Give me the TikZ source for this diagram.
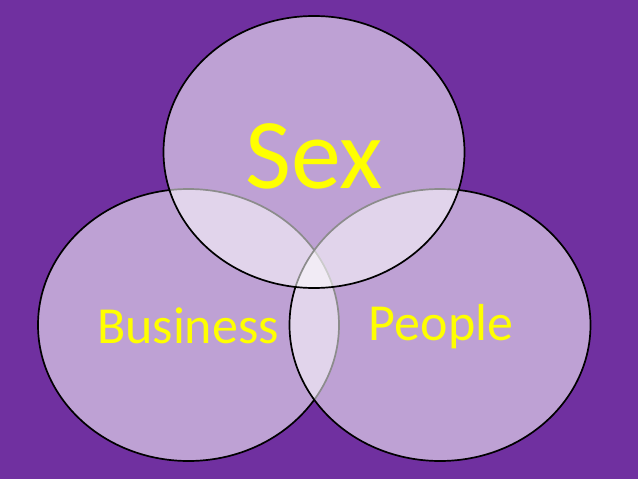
\documentclass[tikz,border=0pt]{standalone}
\usepackage{fontspec}
\setmainfont{Carlito}
\usetikzlibrary{shapes.geometric}
\definecolor{bgpurple}{RGB}{112,48,160}
\definecolor{txtyellow}{RGB}{255,255,0}
\tikzset{
  venn/.style={ellipse, draw=black, line width=1.7pt, fill=white, fill opacity=0.55,
    draw opacity=1, inner sep=0pt, minimum width=301pt, minimum height=272pt},
  lbl/.style={text=txtyellow, anchor=base, inner sep=0pt, text opacity=1}
}
\begin{document}
\begin{tikzpicture}[x=1pt,y=-1pt]
\fill[bgpurple] (0,0) rectangle (638,479);
\useasboundingbox (0,0) rectangle (638,479);
\node[venn] (business) at (188.5,325) {};
\node[venn] (people) at (440,325) {};
\node[venn] (sex) at (314,152) {};
\node[lbl, font=\fontsize{100}{100}\selectfont] (sexlbl) at (314,188) {Sex};
\node[lbl, font=\fontsize{52}{52}\selectfont] (buslbl) at (188,343) {Business};
\node[lbl, font=\fontsize{52}{52}\selectfont] (peoplbl) at (441,340) {People};
\end{tikzpicture}
\end{document}
